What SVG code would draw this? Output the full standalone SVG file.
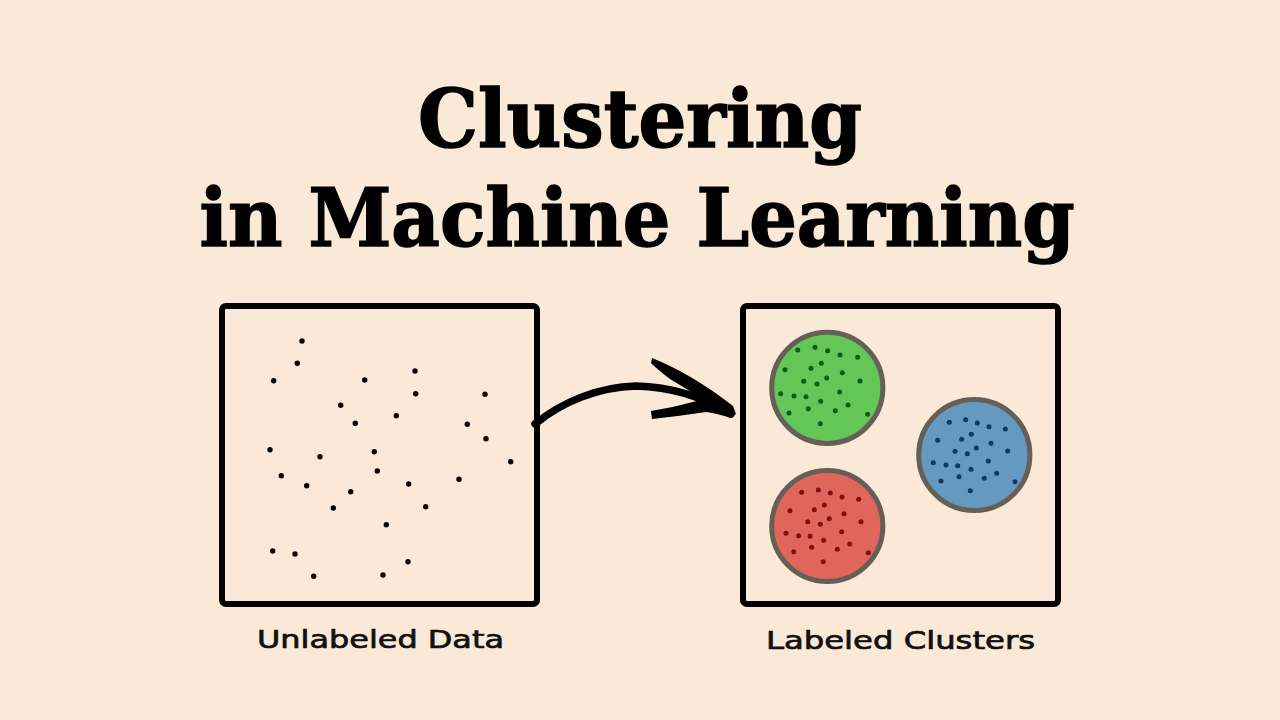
<svg xmlns="http://www.w3.org/2000/svg" width="1280" height="720" viewBox="0 0 1280 720">
  <style>
    .title { font-family: "DejaVu Serif", "Liberation Serif", serif; font-weight: bold; font-size: 80px; fill: #000; stroke: #000; stroke-width: 1.6; }
    .label { font-family: "DejaVu Sans", "Liberation Sans", sans-serif; font-size: 25px; fill: #111; stroke: #111; stroke-width: 0.7; }
    .frame { fill: none; stroke: #000; stroke-width: 6; }
    .ring { stroke: #665f57; stroke-width: 5; }
    .pt circle { fill: #000; }
    .g circle { fill: #0d5c12; }
    .r circle { fill: #7d1012; }
    .b circle { fill: #0d3a5f; }
    .ink { fill: #000; }
  </style>
  <rect width="1280" height="720" fill="#f9e9d6"/>

  <g id="title">
    <text class="title" x="640" y="147" text-anchor="middle" textLength="444" lengthAdjust="spacingAndGlyphs">Clustering</text>
    <text class="title" x="637" y="246" text-anchor="middle" textLength="875" lengthAdjust="spacingAndGlyphs">in Machine Learning</text>
  </g>

  <g id="unlabeled-data">
    <rect class="frame" x="222" y="306" width="315" height="298" rx="4"/>
    <g class="pt">
      <circle cx="302" cy="341" r="2.7"/>
      <circle cx="297.3" cy="363.3" r="2.7"/>
      <circle cx="273.7" cy="380.7" r="2.7"/>
      <circle cx="364.7" cy="380" r="2.7"/>
      <circle cx="415" cy="371" r="2.7"/>
      <circle cx="415.7" cy="393.7" r="2.7"/>
      <circle cx="485" cy="394.3" r="2.7"/>
      <circle cx="340.7" cy="405.3" r="2.7"/>
      <circle cx="396.3" cy="415.7" r="2.7"/>
      <circle cx="355.3" cy="423.3" r="2.7"/>
      <circle cx="467.3" cy="424.3" r="2.7"/>
      <circle cx="486" cy="438.7" r="2.7"/>
      <circle cx="270" cy="449.7" r="2.7"/>
      <circle cx="374.3" cy="451.7" r="2.7"/>
      <circle cx="320" cy="456.7" r="2.7"/>
      <circle cx="510.7" cy="461.7" r="2.7"/>
      <circle cx="281.3" cy="475.7" r="2.7"/>
      <circle cx="377.3" cy="471" r="2.7"/>
      <circle cx="306.7" cy="485.7" r="2.7"/>
      <circle cx="408.7" cy="484" r="2.7"/>
      <circle cx="459" cy="479.3" r="2.7"/>
      <circle cx="350.7" cy="491.7" r="2.7"/>
      <circle cx="333.3" cy="508" r="2.7"/>
      <circle cx="425.7" cy="506.7" r="2.7"/>
      <circle cx="386.3" cy="524.7" r="2.7"/>
      <circle cx="272.7" cy="551" r="2.7"/>
      <circle cx="295" cy="554" r="2.7"/>
      <circle cx="408" cy="561.7" r="2.7"/>
      <circle cx="313.7" cy="576.3" r="2.7"/>
      <circle cx="383" cy="575" r="2.7"/>
    </g>
    <text class="label" x="257" y="648" textLength="247" lengthAdjust="spacingAndGlyphs">Unlabeled Data</text>
  </g>

  <g id="connectors">
    <path d="M535,424 C562,402 598,387 636,386 C675,387 705,398 731,414" fill="none" stroke="#000" stroke-width="7.5" stroke-linecap="round"/>
    <path class="ink" d="M652,358 Q692,374 733,406 L736,414 L730,418 Q702,398 670,379 Q658,370 651,363 Z"/>
    <path class="ink" d="M651,411 Q675,407 697,401 Q715,407 734,414 L731,418 Q715,413 706,412 Q680,416 652,419 Z"/>
  </g>

  <g id="labeled-clusters">
    <rect class="frame" x="743" y="306" width="315" height="298" rx="4"/>

    <g id="cluster-green">
      <circle class="ring" cx="827.3" cy="387.8" r="55.6" fill="#64c657"/>
      <g class="g">
        <circle cx="797.7" cy="350" r="2.5"/>
        <circle cx="815" cy="347.3" r="2.5"/>
        <circle cx="827.7" cy="350.7" r="2.5"/>
        <circle cx="840" cy="355" r="2.5"/>
        <circle cx="857.7" cy="357.3" r="2.5"/>
        <circle cx="785" cy="369.7" r="2.5"/>
        <circle cx="811" cy="368.3" r="2.5"/>
        <circle cx="821.3" cy="363.3" r="2.5"/>
        <circle cx="842.3" cy="372.7" r="2.5"/>
        <circle cx="860" cy="381" r="2.5"/>
        <circle cx="803.7" cy="381.3" r="2.5"/>
        <circle cx="817" cy="384" r="2.5"/>
        <circle cx="826.7" cy="378" r="2.5"/>
        <circle cx="780.7" cy="393.7" r="2.5"/>
        <circle cx="794" cy="396" r="2.5"/>
        <circle cx="806" cy="396.7" r="2.5"/>
        <circle cx="839.7" cy="392" r="2.5"/>
        <circle cx="820.7" cy="401.3" r="2.5"/>
        <circle cx="848" cy="405" r="2.5"/>
        <circle cx="808.3" cy="408.7" r="2.5"/>
        <circle cx="835.3" cy="410.7" r="2.5"/>
        <circle cx="789" cy="413" r="2.5"/>
        <circle cx="867.7" cy="414.3" r="2.5"/>
        <circle cx="820.3" cy="423.7" r="2.5"/>
      </g>
    </g>

    <g id="cluster-red">
      <circle class="ring" cx="827.3" cy="526" r="55.6" fill="#e0665c"/>
      <g class="r">
        <circle cx="801.7" cy="492.3" r="2.5"/>
        <circle cx="818.3" cy="490" r="2.5"/>
        <circle cx="830.3" cy="493" r="2.5"/>
        <circle cx="842" cy="497" r="2.5"/>
        <circle cx="858.7" cy="499.3" r="2.5"/>
        <circle cx="790" cy="510.7" r="2.5"/>
        <circle cx="814.3" cy="509.7" r="2.5"/>
        <circle cx="824.3" cy="505" r="2.5"/>
        <circle cx="844" cy="513.7" r="2.5"/>
        <circle cx="861" cy="521.7" r="2.5"/>
        <circle cx="807.7" cy="521.7" r="2.5"/>
        <circle cx="820.3" cy="524.3" r="2.5"/>
        <circle cx="829.3" cy="518.7" r="2.5"/>
        <circle cx="786" cy="533.3" r="2.5"/>
        <circle cx="798.7" cy="535.7" r="2.5"/>
        <circle cx="810" cy="536.3" r="2.5"/>
        <circle cx="841.7" cy="531.7" r="2.5"/>
        <circle cx="823.7" cy="540.3" r="2.5"/>
        <circle cx="849.7" cy="544" r="2.5"/>
        <circle cx="811.7" cy="547.3" r="2.5"/>
        <circle cx="837.3" cy="549.3" r="2.5"/>
        <circle cx="793.7" cy="551.7" r="2.5"/>
        <circle cx="868.3" cy="552.7" r="2.5"/>
        <circle cx="823.3" cy="561.7" r="2.5"/>
      </g>
    </g>

    <g id="cluster-blue">
      <circle class="ring" cx="974.3" cy="455" r="55.6" fill="#6699bf"/>
      <g class="b">
        <circle cx="949.3" cy="422.3" r="2.5"/>
        <circle cx="965.7" cy="419.7" r="2.5"/>
        <circle cx="977.3" cy="423" r="2.5"/>
        <circle cx="989" cy="426.7" r="2.5"/>
        <circle cx="1005.3" cy="429" r="2.5"/>
        <circle cx="937.7" cy="440.3" r="2.5"/>
        <circle cx="961.7" cy="439.3" r="2.5"/>
        <circle cx="971.3" cy="434.3" r="2.5"/>
        <circle cx="991" cy="443.3" r="2.5"/>
        <circle cx="1007.7" cy="451" r="2.5"/>
        <circle cx="955" cy="451.3" r="2.5"/>
        <circle cx="967.3" cy="453.7" r="2.5"/>
        <circle cx="976.3" cy="448" r="2.5"/>
        <circle cx="933.3" cy="462.7" r="2.5"/>
        <circle cx="946" cy="465" r="2.5"/>
        <circle cx="957.7" cy="465.7" r="2.5"/>
        <circle cx="988.3" cy="461" r="2.5"/>
        <circle cx="971" cy="469.3" r="2.5"/>
        <circle cx="996.7" cy="473.3" r="2.5"/>
        <circle cx="959" cy="476.7" r="2.5"/>
        <circle cx="984.3" cy="478.3" r="2.5"/>
        <circle cx="941" cy="481" r="2.5"/>
        <circle cx="1015" cy="481.7" r="2.5"/>
        <circle cx="970.3" cy="490.7" r="2.5"/>
      </g>
    </g>

    <text class="label" x="766" y="649" textLength="269" lengthAdjust="spacingAndGlyphs">Labeled Clusters</text>
  </g>
</svg>
